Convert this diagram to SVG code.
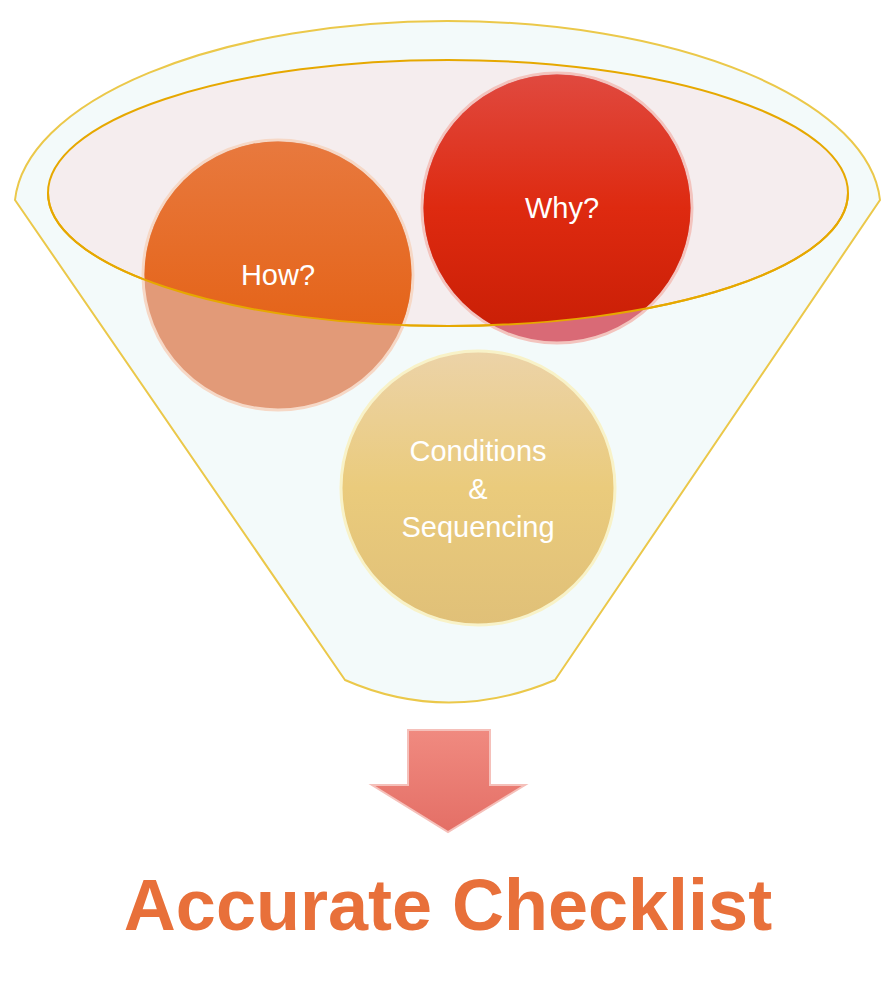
<svg xmlns="http://www.w3.org/2000/svg" width="886" height="1002" viewBox="0 0 886 1002">
<style>
.lbl{font-family:"Liberation Sans",Arial,sans-serif;font-size:29px;fill:#fff;text-anchor:middle}
</style>
<defs>
<clipPath id="inner"><ellipse cx="448" cy="193" rx="400" ry="133"/></clipPath>
<linearGradient id="gHow" x1="0" y1="0" x2="0" y2="1"><stop offset="0" stop-color="#E8793E"/><stop offset="1" stop-color="#E35A08"/></linearGradient>
<linearGradient id="gWhy" x1="0" y1="0" x2="0" y2="1"><stop offset="0" stop-color="#E0493F"/><stop offset="0.5" stop-color="#DE2A10"/><stop offset="1" stop-color="#C81E05"/></linearGradient>
<linearGradient id="gCond" x1="0" y1="0" x2="0" y2="1"><stop offset="0" stop-color="#ECD3A8"/><stop offset="0.5" stop-color="#EACB7C"/><stop offset="1" stop-color="#E0C078"/></linearGradient>
<linearGradient id="gArrow" x1="0" y1="0" x2="0" y2="1"><stop offset="0" stop-color="#F08A80"/><stop offset="1" stop-color="#E46F66"/></linearGradient>
</defs>
<g id="funnel">
<path d="M15,200 L345,680 Q448,725 555,680 L880,200 A433,188 0 0 0 15,200 Z" fill="#F3FAFA" stroke="#EBC84A" stroke-width="2"/>
<ellipse cx="448" cy="193" rx="400" ry="133" fill="#F5EDEE" stroke="#E6A800" stroke-width="2"/>
</g>
<g id="how"><circle cx="278" cy="275" r="135" fill="#E29A78" stroke="#F6D8C6" stroke-width="3"/><circle cx="278" cy="275" r="133.5" fill="url(#gHow)" clip-path="url(#inner)"/><text class="lbl" x="278" y="285">How?</text></g>
<g id="why"><circle cx="557" cy="208" r="135" fill="#D96A76" stroke="#F3C4BE" stroke-width="3"/><circle cx="557" cy="208" r="133.5" fill="url(#gWhy)" clip-path="url(#inner)"/><text class="lbl" x="562" y="218">Why?</text></g>
<g id="rim"><path d="M48,193 A400,133 0 0 0 848,193" fill="none" stroke="#E6A800" stroke-width="2"/></g>
<g id="cond"><circle cx="478" cy="488" r="137" fill="url(#gCond)" stroke="#F8F2C8" stroke-width="3"/>
<text class="lbl" x="478" y="461">Conditions</text><text class="lbl" x="478" y="499">&amp;</text><text class="lbl" x="478" y="537">Sequencing</text></g>
<g id="connectors"><path d="M408,730 H490 V785 H525 L448,832 L372,785 H408 Z" fill="url(#gArrow)" stroke="#F5C0BA" stroke-width="2"/></g>
<g id="title"><text x="448" y="930" font-family="Liberation Sans,Arial,sans-serif" font-weight="bold" font-size="72" fill="#E8703A" text-anchor="middle">Accurate Checklist</text></g>
</svg>
